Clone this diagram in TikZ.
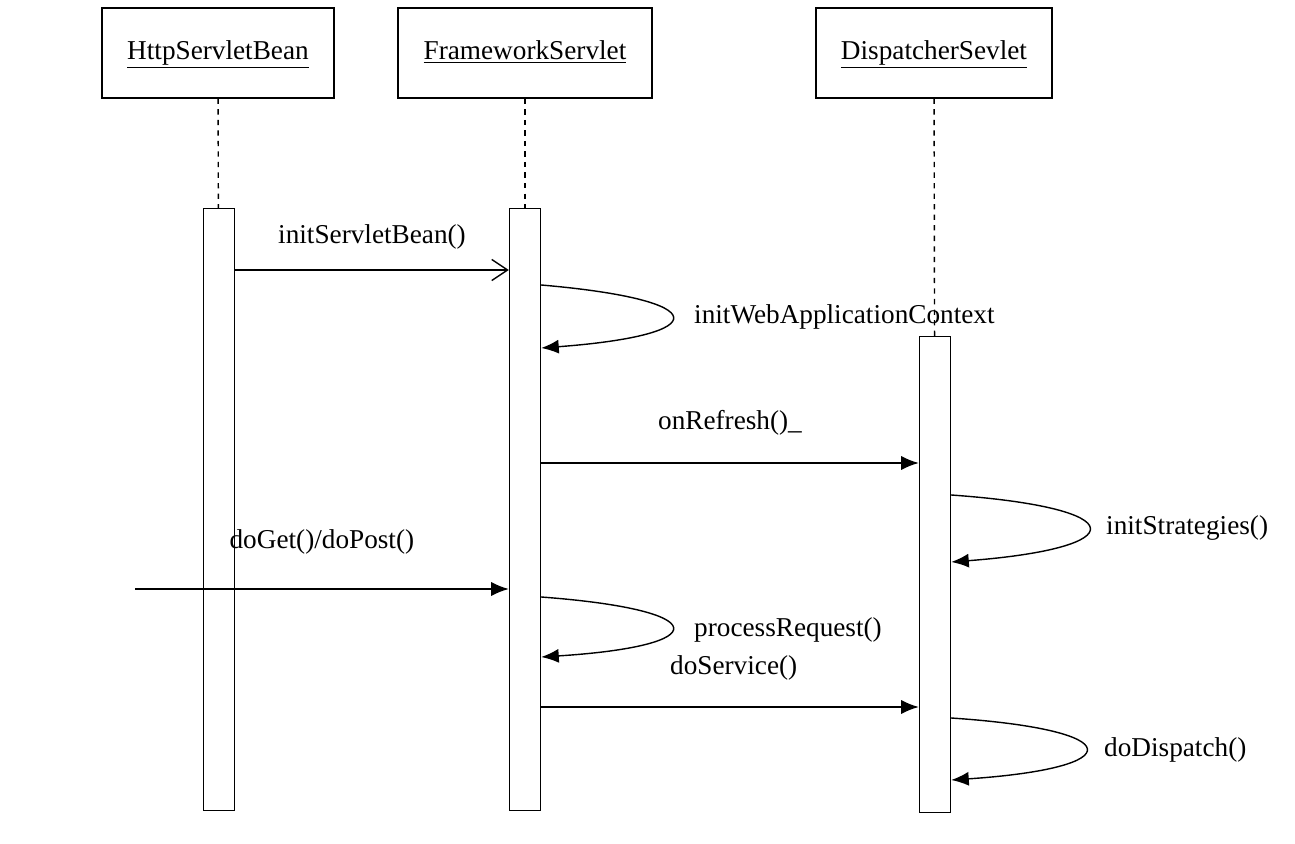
\documentclass[tikz,border=0pt]{standalone}
\usepackage{fontspec}
\setmainfont{Liberation Serif}
\usetikzlibrary{positioning, arrows.meta}

\tikzset{
    obj/.style={rectangle, draw, thick, minimum height=1.8cm, text height=11pt, text depth=4pt, font=\fontsize{15.5}{19}\selectfont},
    bar/.style={rectangle, draw, thick, minimum width=0.62cm, anchor=north, inner sep=0pt},
    msg/.style={thick, -{Latex[length=10pt, width=8pt]}},
    lbl/.style={font=\fontsize{15.5}{19}\selectfont},
    life/.style={thick, dashed}
}

\begin{document}
\begin{tikzpicture}[x=0.02cm, y=-0.02cm]
        \useasboundingbox (0,0) rectangle (1295,844);

        %-----Objects-----

        % HttpServletBean Object
        \node[obj, minimum width=4.64cm] (hsb) at (218,53) {\underline{HttpServletBean}};

        % FrameworkServlet Object
        \node[obj, minimum width=5.08cm] (fs) at (525,53) {\underline{FrameworkServlet}};

        % DispatcherSevlet Object
        \node[obj, minimum width=4.72cm] (ds) at (934,53) {\underline{DispatcherSevlet}};

        %-----Activations-----
        \node[bar, minimum height=12.04cm] (hsbact) at (219,208) {};
        \node[bar, minimum height=12.04cm] (fsact) at (525,208) {};
        \node[bar, minimum height=9.52cm] (dsact) at (935,336) {};

        % Lifelines
        \draw[life] (hsb) -- (hsbact);
        \draw[life] (fs) -- (fsact);
        \draw[life] (ds) -- (dsact);

        %-----Messages-----

        % initServletBean
        \draw[thick, -{Straight Barb[length=9pt, width=12pt]}] (hsbact.east |- 0,270) -- (fsact.west |- 0,270) node[lbl, midway, above=8pt] {initServletBean()};

        % initWebApplicationContext
        \draw[msg] (fsact.east |- 0,285) .. controls (715,300) and (715,335) .. (fsact.east |- 0,348);
        \node[lbl, anchor=west] (iwac) at (688,317) {initWebApplicationContext};

        % onRefresh
        \draw[msg] (fsact.east |- 0,463) -- (dsact.west |- 0,463) node[lbl, pos=0.5, above=12pt] {onRefresh()\_};

        % initStrategies
        \draw[msg] (dsact.east |- 0,495) .. controls (1134,508) and (1134,548) .. (dsact.east |- 0,562);
        \node[lbl, anchor=west] (istr) at (1100,528) {initStrategies()};

        % doGet / doPost
        \coordinate (client) at (135,589);
        \draw[msg] (client) -- (fsact.west |- client) node[lbl, pos=0.5, above=16pt] {doGet()/doPost()};

        % processRequest
        \draw[msg] (fsact.east |- 0,597) .. controls (715,610) and (715,646) .. (fsact.east |- 0,657);
        \node[lbl, anchor=west] (preq) at (688,630) {processRequest()};
        \node[lbl, anchor=west] (dserv) at (664,668) {doService()};

        % doService
        \draw[msg] (fsact.east |- 0,707) -- (dsact.west |- 0,707);

        % doDispatch
        \draw[msg] (dsact.east |- 0,718) .. controls (1130,730) and (1130,768) .. (dsact.east |- 0,780);
        \node[lbl, anchor=west] (ddisp) at (1098,750) {doDispatch()};

\end{tikzpicture}
\end{document}
